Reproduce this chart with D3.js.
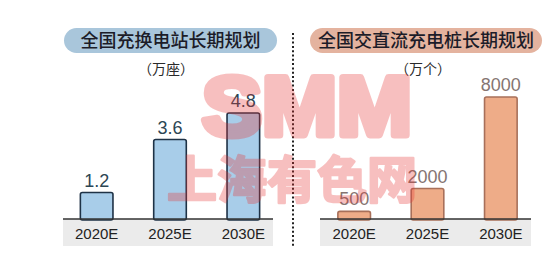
<!DOCTYPE html>
<html><head><meta charset="utf-8">
<script src="https://cdn.jsdelivr.net/npm/d3@7"></script>
<style>html,body{margin:0;padding:0;background:#fff;}svg{display:block;}</style>
</head><body>
<script>
const years = ["2020E", "2025E", "2030E"];
const swapStations = [1.2, 3.6, 4.8];
const chargingPiles = [500, 2000, 8000];
const leftTitle = "全国充换电站长期规划";
const leftUnit = "（万座）";
const rightTitle = "全国交直流充电桩长期规划";
const rightUnit = "（万个）";
const wmLatin = "SMM";
const wmCjk = "上海有色网";

const W = 559, H = 255;
const svg = d3.select("body").append("svg").attr("width", W).attr("height", H);
const cjk = "'Noto Sans CJK SC','Noto Sans',sans-serif";
const latin = "'Liberation Sans',Arial,sans-serif";
const baseY = 219;

function panel(cfg) {
  const g = svg.append("g");
  g.append("rect").attr("x", cfg.bandX0).attr("y", baseY).attr("width", cfg.bandX1 - cfg.bandX0).attr("height", 27).attr("fill", "#ebebeb");
  const x = d3.scaleBand().domain(years).range(cfg.range).paddingInner(0.535).paddingOuter(0.2675);
  const y = d3.scaleLinear().domain([0, cfg.max]).range([baseY, cfg.top]);
  g.append("rect").attr("x", cfg.pill[0]).attr("y", 28).attr("width", cfg.pill[1] - cfg.pill[0]).attr("height", 25).attr("rx", 12.5).attr("fill", cfg.pillColor);
  g.append("text").attr("x", (cfg.pill[0] + cfg.pill[1]) / 2).attr("y", 47).attr("text-anchor", "middle")
    .attr("font-family", cjk).attr("font-size", 18).attr("font-weight", 500).attr("fill", "#1c1c28").text(cfg.title);
  g.append("text").attr("x", cfg.unitX).attr("y", 74).attr("text-anchor", "middle")
    .attr("font-family", cjk).attr("font-size", 14).attr("fill", "#2a2a2a").text(cfg.unit);
  g.selectAll("rect.bar").data(cfg.values).join("rect").attr("class", "bar")
    .attr("x", (d, i) => x(years[i]) + 0.75).attr("width", x.bandwidth() - 1.5)
    .attr("y", d => y(d)).attr("height", d => baseY - y(d) + 1)
    .attr("rx", 2).attr("fill", cfg.fill).attr("stroke", cfg.stroke).attr("stroke-width", 1.6);
  g.selectAll("text.val").data(cfg.values).join("text").attr("class", "val")
    .attr("x", (d, i) => x(years[i]) + x.bandwidth() / 2).attr("y", d => y(d) - 6)
    .attr("text-anchor", "middle").attr("font-family", latin).attr("font-size", 18).attr("fill", cfg.valColor)
    .text(d => d);
  const axis = d3.axisBottom(x).tickSize(0).tickPadding(9);
  const ag = g.append("g").attr("transform", `translate(0,${baseY})`).call(axis);
  ag.select(".domain").remove();
  ag.append("line").attr("x1", cfg.bandX0).attr("x2", cfg.bandX1).attr("stroke", "#333").attr("stroke-width", 1.5);
  ag.selectAll(".tick text").attr("font-family", latin).attr("font-size", 15).attr("fill", "#222");
}

panel({ values: swapStations, max: 4.8, top: 113, range: [60, 280], bandX0: 63, bandX1: 273,
  pill: [64, 277], pillColor: "#a9c6db", title: leftTitle, unit: leftUnit, unitX: 166,
  fill: "#a8cde9", stroke: "#1e3246", valColor: "#2c4654" });
panel({ values: chargingPiles, max: 8000, top: 97, range: [317.5, 537.5], bandX0: 320, bandX1: 531,
  pill: [310, 542], pillColor: "#e4b39f", title: rightTitle, unit: rightUnit, unitX: 423,
  fill: "#eeac88", stroke: "#a8705a", valColor: "#857572" });

svg.append("line").attr("x1", 293).attr("x2", 293).attr("y1", 33).attr("y2", 246)
  .attr("stroke", "#222").attr("stroke-width", 2).attr("stroke-dasharray", "2,2.3");

const wm = svg.append("g").attr("fill", "#e83030").attr("stroke", "#e83030").attr("stroke-linejoin", "round").attr("opacity", 0.3);
wm.append("text").attr("x", 202).attr("y", 135).attr("font-family", latin).attr("font-weight", "bold")
  .attr("stroke-width", 7)
  .attr("font-size", 84).attr("textLength", 210).attr("lengthAdjust", "spacingAndGlyphs").text(wmLatin);
wm.append("text").attr("x", 167).attr("y", 198).attr("font-family", cjk).attr("font-weight", "bold")
  .attr("stroke-width", 2.5)
  .attr("font-size", 50).attr("textLength", 250).attr("lengthAdjust", "spacingAndGlyphs").text(wmCjk);
</script>
</body></html>
